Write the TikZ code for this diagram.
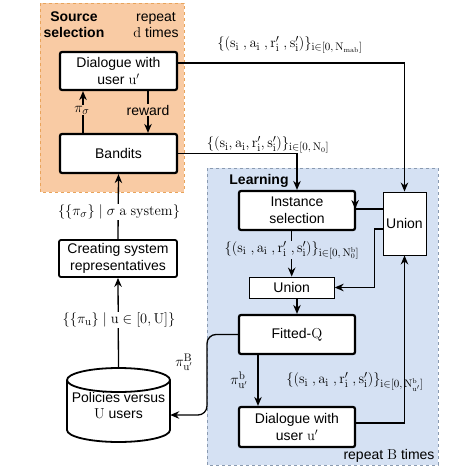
\documentclass[tikz,border=0pt]{standalone}
\usepackage[no-math]{fontspec}
\setmainfont{Liberation Sans}
\usetikzlibrary{arrows.meta,calc}
\definecolor{orfill}{HTML}{F9CBA4}
\definecolor{ordraw}{HTML}{E8A45C}
\definecolor{blfill}{HTML}{D5E1F3}
\definecolor{bldraw}{HTML}{8A9AB0}
\begin{document}
\begin{tikzpicture}[x=1pt,y=1pt,
  box/.style={draw, line width=2.2pt, rounded corners=2pt, fill=white, align=center, inner sep=0pt, font=\fontsize{14}{17}\selectfont},
  ubox/.style={draw, line width=0.9pt, fill=white, align=center, inner sep=0pt, font=\fontsize{14}{17}\selectfont},
  conn/.style={line width=1.3pt},
  arr/.style={line width=1.3pt, -{Stealth[length=9pt,width=7.5pt]}},
  lab/.style={font=\fontsize{15}{17}\selectfont, inner sep=1pt},
  ttl/.style={font=\bfseries\fontsize{14}{16}\selectfont, align=left, inner sep=0pt}]
\useasboundingbox (0,0) rectangle (474,-474);
\fill[white] (0,0) rectangle (474,-474);
% group backgrounds
\draw[fill=orfill, draw=ordraw, dashed, line width=0.9pt] (40,-3) rectangle (184,-192);
\draw[fill=blfill, draw=bldraw, dashed, line width=0.9pt] (207,-168) rectangle (438,-465);
\node[ttl, align=center] (srcttl) at (74,-25) {Source\\selection};
\node[align=center, inner sep=0pt, font=\fontsize{14}{16}\selectfont] (rep1) at (156,-25) {repeat\\$\mathrm{d}$ times};
\node[ttl] (lrnttl) at (259,-181) {Learning};
\node[inner sep=0pt, font=\fontsize{14}{16}\selectfont] (rep2) at (389,-456) {repeat $\mathrm{B}$ times};
% nodes
\node[box, minimum width=117, minimum height=38] (dlg1) at (118.5,-71) {Dialogue with\\user $\mathrm{u'}$};
\node[box, minimum width=117, minimum height=39] (band) at (118.5,-153.5) {Bandits};
\node[box, line width=1.8pt, minimum width=118, minimum height=37] (crs) at (118,-258.5) {Creating system\\representatives};
\node[box, minimum width=116, minimum height=39] (is) at (297,-210.5) {Instance\\selection};
\node[ubox, minimum width=43, minimum height=63] (u1) at (404.5,-223.5) {Union};
\node[ubox, minimum width=85, minimum height=21] (u2) at (291.7,-287.5) {Union};
\node[box, minimum width=116, minimum height=39] (fq) at (297,-334.5) {Fitted-$\mathrm{Q}$};
\node[box, minimum width=116, minimum height=40] (dlg2) at (297,-427) {Dialogue with\\user $\mathrm{u'}$};
% database cylinder
\draw[line width=1.8pt, fill=white] (67,-380) -- (67,-430) arc[start angle=180, end angle=360, x radius=51.5, y radius=12] -- (170,-380) arc[start angle=0, end angle=180, x radius=51.5, y radius=12];
\draw[line width=1.8pt] (67,-380) arc[start angle=180, end angle=360, x radius=51.5, y radius=12];
\node[minimum width=103, minimum height=74, inner sep=0pt, align=center, font=\fontsize{14}{16}\selectfont] (db) at (118.5,-405) {Policies versus\\$\mathrm{U}$ users};
% connectors in source selection
\draw[arr] ([xshift=-35.5pt]band.north) -- ([xshift=-35.5pt]dlg1.south);
\node[lab, fill=orfill] (lpis) at (82,-110) {$\pi_\sigma$};
\draw[arr] ([xshift=29.5pt]dlg1.south) -- ([xshift=29.5pt]band.north);
\node[lab, fill=orfill, font=\fontsize{14}{16}\selectfont] (lrew) at (148,-110) {reward};
\draw[arr] (crs.north) -- (band.south);
\node[lab, fill=white] (lsys) at (119,-212) {$\{\{\pi_\sigma\}\mid\sigma\ \mathrm{a\ system}\}$};
\draw[arr] (db.north) -- (crs.south);
\node[lab, fill=white] (lpiu) at (119,-320) {$\{\{\pi_{\mathrm{u}}\}\mid \mathrm{u}\in[0,\mathrm{U}]\}$};
% long connectors
\draw[arr] ([yshift=8pt]dlg1.east) -| (u1.north);
\node[lab] (lmab) at (290,-45) {$\{(\mathrm{s_i}\;, \mathrm{a_i}\;, \mathrm{r'_i}\;, \mathrm{s'_i})\}_{\mathrm{i}\in[0,\,\mathrm{N_{mab}}]}$};
\draw[arr] (band.east) -| (is.north);
\node[lab] (ln0) at (268,-145) {$\{(\mathrm{s_i}, \mathrm{a_i}, \mathrm{r'_i}, \mathrm{s'_i})\}_{\mathrm{i}\in[0,\,\mathrm{N_0}]}$};
% union -> instance selection
\coordinate (uin) at ($(is.east)+(-1,1.5)$);
\draw[conn] ([yshift=14.5pt]u1.west) -- (uin);
\draw[arr] ($(uin)+(0,10)$) -- (uin);
% union -> small union
\draw[arr] ([yshift=-5.5pt]u1.west) -- ++(-8,0) |- (u2.east);
% instance selection -> small union
\draw[arr] (is.south -| u2.north) -- (u2.north);
\node[lab, fill=blfill, inner sep=0.5pt] (lnb) at (292,-250) {$\{(\mathrm{s_i}\;, \mathrm{a_i}\;, \mathrm{r'_i}\;, \mathrm{s'_i})\}_{\mathrm{i}\in[0,\,\mathrm{N^b_0}]}$};
\draw[arr] (u2.south -| fq.north) -- (fq.north);
% fitted-q -> dialogue
\draw[arr] ([xshift=-39pt]fq.south) -- ([xshift=-39pt]dlg2.north);
\node[lab] (lpib) at (239,-380) {$\pi^{\mathrm{b}}_{\mathrm{u'}}$};
% dialogue -> union
\draw[arr] ([yshift=4pt]dlg2.east) -| (u1.south);
\node[lab] (lnu) at (355,-382) {$\{(\mathrm{s_i}\;, \mathrm{a_i}\;, \mathrm{r'_i}\;, \mathrm{s'_i})\}_{\mathrm{i}\in[0,\,\mathrm{N^b_{u'}}]}$};
% fitted-q -> database
\coordinate (bend) at (207,-415);
\draw[arr, rounded corners=9pt] (fq.west) -| (bend) -- ([yshift=-10pt]db.east);
\node[lab] (lpiB) at (184,-362) {$\pi^{\mathrm{B}}_{\mathrm{u'}}$};
\end{tikzpicture}
\end{document}
